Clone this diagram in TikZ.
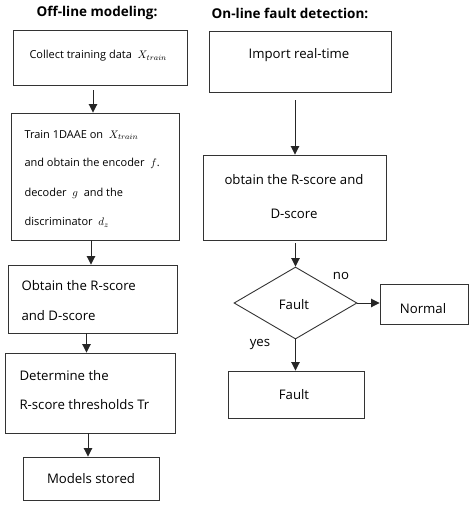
\documentclass[tikz,border=0pt]{standalone}
\usepackage{fontspec}
\setmainfont{Open Sans}
\usetikzlibrary{arrows.meta,shapes.geometric}
\begin{document}
\begin{tikzpicture}[x=1pt,y=-1pt,
  box/.style={draw=black!80,line width=0.9pt,inner sep=0pt},
  arr/.style={draw=black!85,line width=0.9pt,-{Triangle[length=8.5pt,width=8.5pt]}},
  ttl/.style={font=\bfseries\fontsize{13.5}{15}\selectfont},
  txt/.style={font=\fontsize{13.2}{15}\selectfont},
  sml/.style={font=\fontsize{11}{13}\selectfont}]
\useasboundingbox (0,0) rectangle (474,506);
% titles
\node[ttl] (t1) at (97,13) {Off-line modeling:};
\node[ttl] (t2) at (290,13) {On-line fault detection:};
% left column
\node[box,minimum width=174pt,minimum height=55pt] (b1) at (100,57.5) {};
\node[sml,anchor=west] (b1t) at (26,56) {Collect training data \ $X_{train}$};
\node[box,minimum width=168pt,minimum height=127pt] (b2) at (95,176.5) {};
\node[sml,anchor=west] (b2a) at (21,135) {Train 1DAAE on \ $X_{train}$};
\node[sml,anchor=west] (b2b) at (21,163) {and obtain the encoder \ $f$.};
\node[sml,anchor=west] (b2c) at (21,193) {decoder \ $g$ \ and the};
\node[sml,anchor=west] (b2d) at (21,222) {discriminator \ $d_{z}$};
\node[box,minimum width=169pt,minimum height=68pt] (b3) at (92.5,299) {};
\node[txt,anchor=west] (b3a) at (18,286) {Obtain the R-score};
\node[txt,anchor=west] (b3b) at (18,316) {and D-score};
\node[box,minimum width=170pt,minimum height=80pt] (b4) at (90,393) {};
\node[txt,anchor=west] (b4a) at (16,376) {Determine the};
\node[txt,anchor=west] (b4b) at (16,405) {R-score thresholds Tr};
\node[box,minimum width=136pt,minimum height=43pt,txt] (b5) at (91,478.5) {Models stored};
% right column
\node[box,minimum width=182pt,minimum height=61pt] (r1) at (300,61.5) {};
\node[txt] (r1t) at (299,55) {Import real-time};
\node[box,minimum width=183pt,minimum height=85pt] (r2) at (294.5,197.5) {};
\node[txt] (r2a) at (294,180) {obtain the R-score and};
\node[txt] (r2b) at (294,214) {D-score};
\node[draw=black!80,line width=0.9pt,diamond,inner sep=0pt,minimum width=123pt,minimum height=72pt] (d) at (295.5,303) {};
\node[txt] (dt) at (294,305) {Fault};
\node[box,minimum width=88pt,minimum height=40pt] (nm) at (424,304) {};
\node[txt] (nmt) at (423,309) {Normal};
\node[box,minimum width=136pt,minimum height=47pt] (ft) at (296,394.5) {};
\node[txt] (ftt) at (294,395) {Fault};
\node[txt] (no) at (341,276) {no};
\node[txt] (yes) at (260,344) {yes};
% arrows
\draw[arr,shorten <=5pt] ([xshift=-7pt]b1.south) -- ([xshift=-7pt]b1.south |- b2.north);
\draw[arr] ([xshift=-4pt]b2.south) -- ([xshift=-4pt]b2.south |- b3.north);
\draw[arr] ([xshift=-6pt]b3.south) -- ([xshift=-6pt]b3.south |- b4.north);
\draw[arr] ([xshift=-2pt]b4.south) -- ([xshift=-2pt]b4.south |- b5.north);
\draw[arr,shorten <=8pt] ([xshift=-5pt]r1.south) -- ([xshift=-5pt]r1.south |- r2.north);
\draw[arr,shorten <=3pt] ([xshift=1pt]r2.south) -- (d.north);
\draw[arr] (d.east) -- (d.east -| nm.west);
\draw[arr] (d.south) -- (d.south |- ft.north);
\end{tikzpicture}
\end{document}
